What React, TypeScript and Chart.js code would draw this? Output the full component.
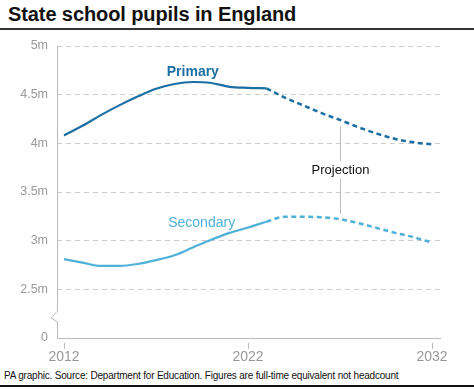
import React, { useEffect, useRef } from "react";
import { Chart, registerables } from "chart.js";

Chart.register(...registerables);

const FONT = "'Liberation Sans', Arial, sans-serif";

const actualYears = [2012, 2013, 2014, 2015, 2016, 2017, 2018, 2019, 2020, 2021, 2022, 2023];
const projectionYears = [2023, 2024, 2025, 2026, 2027, 2028, 2029, 2030, 2031, 2032];

const primaryActual = [4.08, 4.18, 4.29, 4.39, 4.48, 4.56, 4.61, 4.63, 4.62, 4.58, 4.57, 4.565];
const primaryProjection = [4.565, 4.47, 4.39, 4.31, 4.24, 4.165, 4.1, 4.045, 4.01, 3.99];

const secondaryActual = [2.81, 2.775, 2.74, 2.74, 2.76, 2.8, 2.85, 2.93, 3.01, 3.08, 3.135, 3.195];
const secondaryProjection = [3.195, 3.245, 3.245, 3.24, 3.22, 3.18, 3.13, 3.08, 3.035, 2.98];

const xTickYears = [2012, 2022, 2032];
// 2 is the bottom of the broken axis and is labelled "0"
const yTickValues = [2, 2.5, 3, 3.5, 4, 4.5, 5];

const PRIMARY = "#1b6fa3";
const SECONDARY = "#4fb0d8";

const toPoints = (xs: number[], ys: number[]) => xs.map((x, i) => ({ x, y: ys[i] }));

const annotations = {
  id: "annotations",
  afterDatasetsDraw(chart: any) {
    const { ctx, scales } = chart;
    const x = scales.x;
    const y = scales.y;
    ctx.save();

    // series labels
    ctx.textAlign = "center";
    ctx.textBaseline = "alphabetic";
    ctx.font = `bold 14px ${FONT}`;
    ctx.fillStyle = PRIMARY;
    ctx.fillText("Primary", x.getPixelForValue(2019), y.getPixelForValue(4.695));
    ctx.fillStyle = SECONDARY;
    ctx.font = `14px ${FONT}`;
    ctx.fillText("Secondary", x.getPixelForValue(2019.48), y.getPixelForValue(3.144));

    // projection marker
    const px = Math.round(x.getPixelForValue(2027)) + 0.5;
    ctx.strokeStyle = "#bdbdbd";
    ctx.lineWidth = 1;
    ctx.beginPath();
    ctx.moveTo(px, y.getPixelForValue(4.18));
    ctx.lineTo(px, y.getPixelForValue(3.275));
    ctx.stroke();
    ctx.font = `13px ${FONT}`;
    const label = "Projection";
    const w = ctx.measureText(label).width;
    const ly = y.getPixelForValue(3.69);
    ctx.fillStyle = "#ffffff";
    ctx.fillRect(px - w / 2 - 3, ly - 12, w + 6, 17);
    ctx.fillStyle = "#111111";
    ctx.fillText(label, px, ly);

    // y axis line with break symbol
    const ax = Math.round(x.left) + 0.5;
    const top = y.top;
    const bottom = y.bottom;
    ctx.strokeStyle = "#bbbbbb";
    ctx.lineWidth = 1;
    ctx.beginPath();
    ctx.moveTo(ax, top);
    ctx.lineTo(ax, 311);
    ctx.lineTo(ax - 6.5, 318);
    ctx.lineTo(ax, 322);
    ctx.lineTo(ax, bottom);
    ctx.stroke();

    // x tick marks (detached from the axis)
    xTickYears.forEach((yr) => {
      const tx = Math.round(x.getPixelForValue(yr)) + 0.5;
      ctx.beginPath();
      ctx.moveTo(tx, bottom + 5);
      ctx.lineTo(tx, bottom + 11);
      ctx.stroke();
    });

    ctx.restore();
  },
};

export default function App() {
  const canvasRef = useRef<HTMLCanvasElement | null>(null);

  useEffect(() => {
    if (!canvasRef.current) return;
    const chart = new Chart(canvasRef.current, {
      type: "line",
      data: {
        datasets: [
          {
            label: "Primary",
            data: toPoints(actualYears, primaryActual),
            borderColor: PRIMARY,
            borderWidth: 2.2,
            pointRadius: 0,
            cubicInterpolationMode: "monotone",
          },
          {
            label: "Primary projection",
            data: toPoints(projectionYears, primaryProjection),
            borderColor: PRIMARY,
            borderWidth: 2.5,
            borderDash: [5, 3.5],
            pointRadius: 0,
            cubicInterpolationMode: "monotone",
          },
          {
            label: "Secondary",
            data: toPoints(actualYears, secondaryActual),
            borderColor: SECONDARY,
            borderWidth: 2.2,
            pointRadius: 0,
            cubicInterpolationMode: "monotone",
          },
          {
            label: "Secondary projection",
            data: toPoints(projectionYears, secondaryProjection),
            borderColor: SECONDARY,
            borderWidth: 2.5,
            borderDash: [5, 3.5],
            pointRadius: 0,
            cubicInterpolationMode: "monotone",
          },
        ],
      },
      options: {
        responsive: false,
        animation: false,
        layout: { padding: { top: 46, right: 34, left: 0, bottom: 0 } },
        plugins: { legend: { display: false }, tooltip: { enabled: false }, title: { display: false } },
        scales: {
          x: {
            type: "linear",
            min: 2011.62,
            max: 2032.43,
            afterBuildTicks: (s: any) => {
              s.ticks = xTickYears.map((v) => ({ value: v }));
            },
            afterFit: (s: any) => {
              s.height = 32;
            },
            grid: { display: false, drawTicks: false },
            border: { display: true, color: "#bbbbbb", width: 1 },
            ticks: {
              padding: 11,
              maxRotation: 0,
              color: "#999999",
              font: { family: FONT, size: 14 },
              callback: (v: any) => String(v),
            },
          },
          y: {
            type: "linear",
            min: 2,
            max: 5,
            afterBuildTicks: (s: any) => {
              s.ticks = yTickValues.map((v) => ({ value: v }));
            },
            afterFit: (s: any) => {
              s.width = 57;
            },
            grid: {
              drawTicks: false,
              color: (c: any) => (c.tick && c.tick.value === 2 ? "rgba(0,0,0,0)" : "#cccccc"),
              lineWidth: 1,
            },
            border: { display: false, dash: [5, 4] },
            ticks: {
              padding: 9,
              color: "#999999",
              font: { family: FONT, size: 12.5 },
              callback: (v: any) => (v === 2 ? "0" : `${v}m`),
            },
          },
        },
      },
      plugins: [annotations],
    });
    return () => chart.destroy();
  }, []);

  return (
    <div style={{ position: "fixed", left: 0, top: 0, width: 474, height: 389, background: "#fff", overflow: "hidden" }}>
      <div
        style={{
          position: "absolute",
          left: 8,
          top: 4,
          fontFamily: FONT,
          fontWeight: "bold",
          fontSize: 20,
          lineHeight: "20px",
          color: "#111",
          whiteSpace: "nowrap",
          letterSpacing: "-0.1px",
        }}
      >
        State school pupils in England
      </div>
      <div style={{ position: "absolute", left: 0, top: 28, width: 474, height: 1.5, background: "#333" }} />
      <canvas ref={canvasRef} width={474} height={370} style={{ position: "absolute", left: 0, top: 0 }} />
      <div
        style={{
          position: "absolute",
          left: 4,
          top: 370.5,
          fontFamily: FONT,
          fontSize: 10,
          lineHeight: "10px",
          color: "#111",
          whiteSpace: "nowrap",
          letterSpacing: "-0.2px",
        }}
      >
        PA graphic. Source: Department for Education. Figures are full-time equivalent not headcount
      </div>
      <div style={{ position: "absolute", left: 0, top: 385, width: 474, height: 2, background: "#111" }} />
    </div>
  );
}
